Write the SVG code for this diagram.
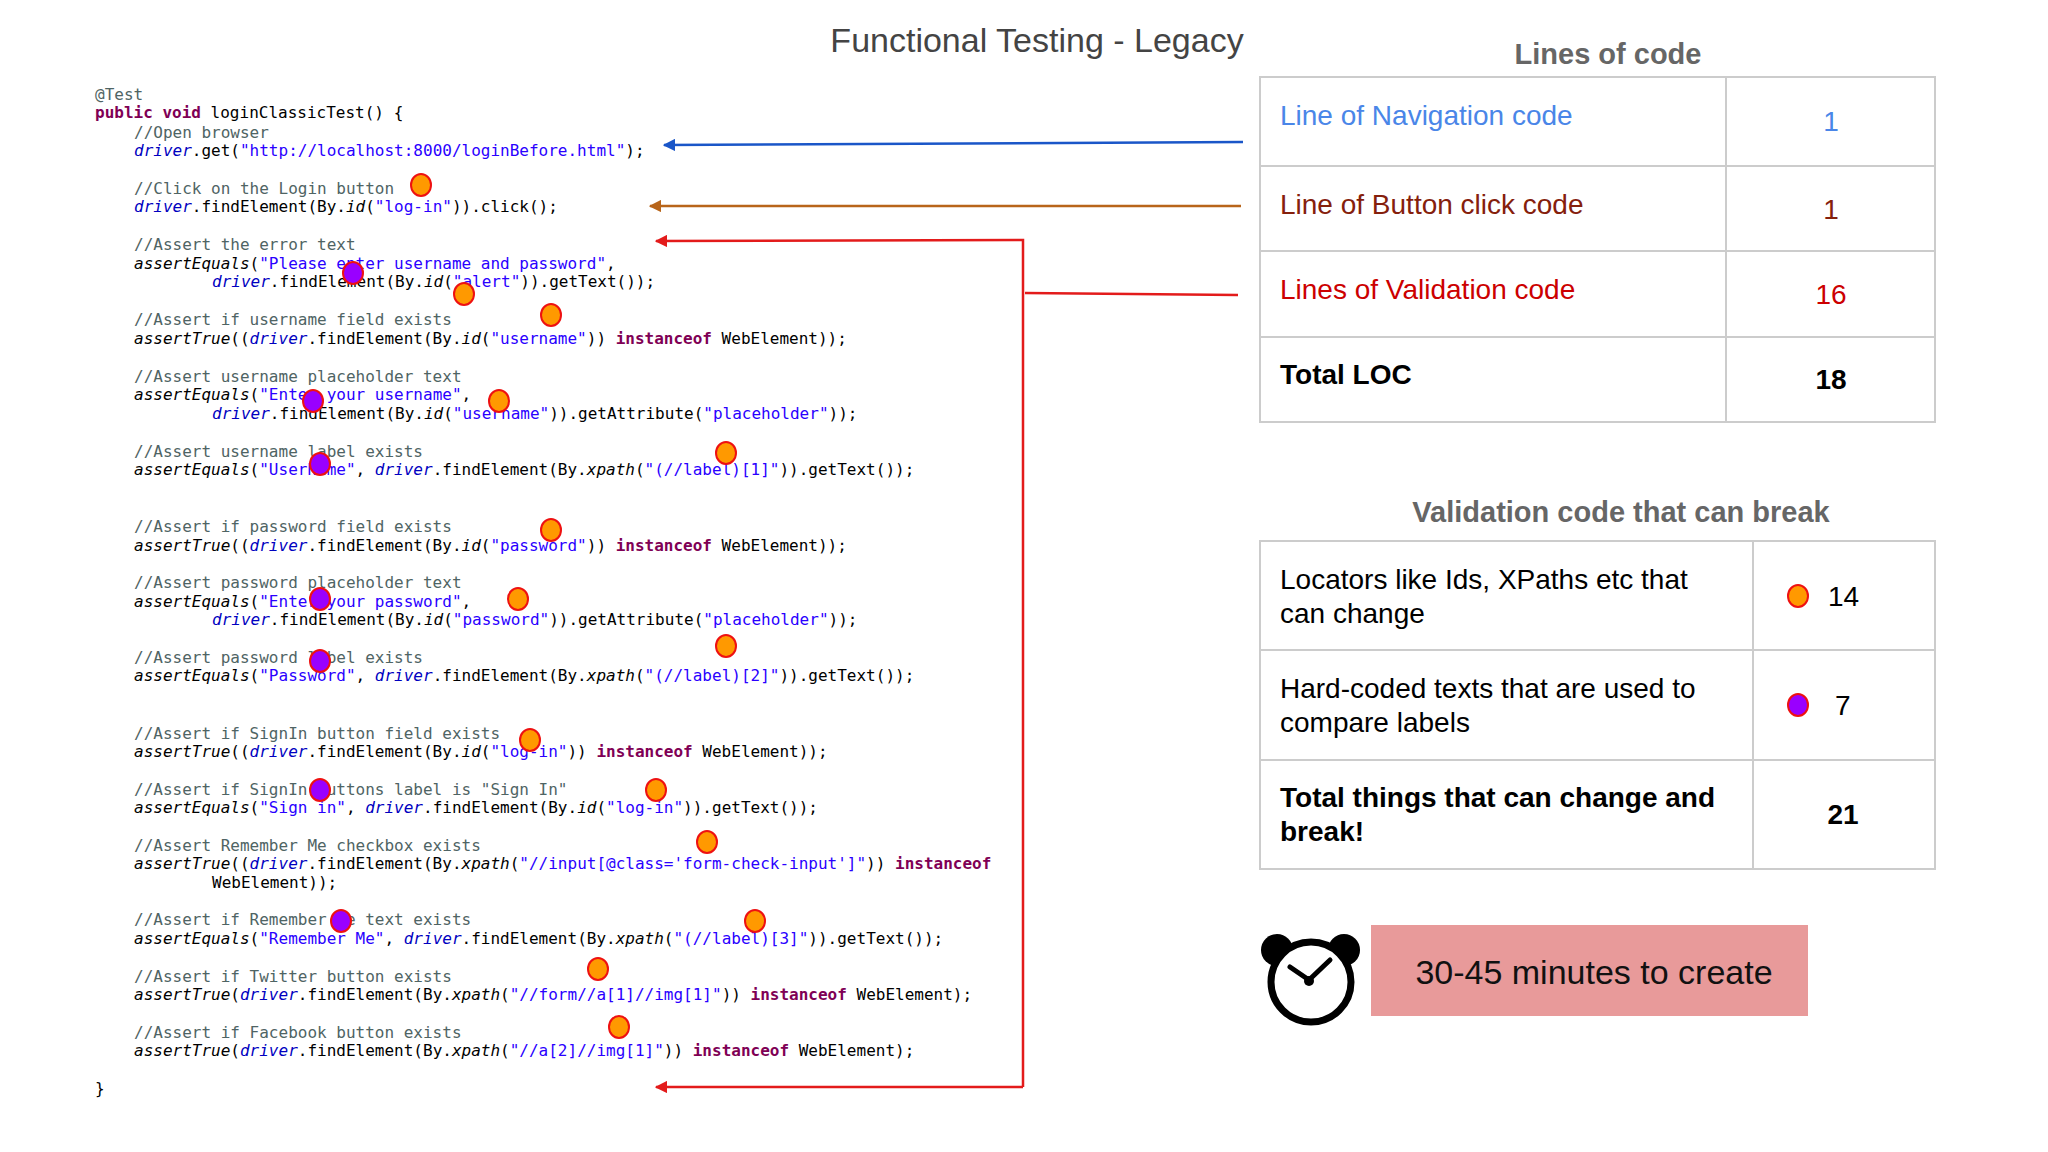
<svg xmlns="http://www.w3.org/2000/svg" width="2048" height="1152" viewBox="0 0 2048 1152">
<style>
.c{font-family:"DejaVu Sans Mono",monospace;font-size:16px;fill:#000}
.cm{fill:#4f6464}
.kw{fill:#7f0055;font-weight:bold}
.s{fill:#2a00ff}
.dv{fill:#0000c0;font-style:italic}
.it{font-style:italic}
.h{font-family:"Liberation Sans",Arial,sans-serif;font-size:29px;font-weight:bold;fill:#666;text-anchor:middle}
.t{font-family:"Liberation Sans",Arial,sans-serif;font-size:28px;fill:#000}
.n{text-anchor:middle}
.od{fill:#ff9900;stroke:#ee1111;stroke-width:2}
.pd{fill:#9900ff;stroke:#ee1111;stroke-width:2}
.cell{fill:#fff;stroke:#ccc;stroke-width:2}
</style>
<defs>
<marker id="ab" viewBox="0 0 10 10" refX="9" refY="5" markerWidth="5" markerHeight="5" orient="auto"><path d="M0,0L10,5L0,10z" fill="#1a56c8"/></marker>
<marker id="ao" viewBox="0 0 10 10" refX="9" refY="5" markerWidth="5" markerHeight="5" orient="auto"><path d="M0,0L10,5L0,10z" fill="#b8651a"/></marker>
<marker id="ar" viewBox="0 0 10 10" refX="9" refY="5" markerWidth="5" markerHeight="5" orient="auto"><path d="M0,0L10,5L0,10z" fill="#e31b1b"/></marker>
</defs>
<rect width="2048" height="1152" fill="#fff"/>
<text x="1037" y="52" font-family="Liberation Sans,Arial,sans-serif" font-size="34" fill="#444" text-anchor="middle">Functional Testing - Legacy</text>

<g id="code" class="c">
<text x="95" y="100" class="cm">@Test</text>
<text x="95" y="118"><tspan class="kw">public void</tspan> loginClassicTest() {</text>
<text x="134" y="138" class="cm">//Open browser</text>
<text x="134" y="156"><tspan class="dv">driver</tspan>.get(<tspan class="s">"http://localhost:8000/loginBefore.html"</tspan>);</text>
<text x="134" y="194" class="cm">//Click on the Login button</text>
<text x="134" y="212"><tspan class="dv">driver</tspan>.findElement(By.<tspan class="it">id</tspan>(<tspan class="s">"log-in"</tspan>)).click();</text>
<text x="134" y="250" class="cm">//Assert the error text</text>
<text x="134" y="269"><tspan class="it">assertEquals</tspan>(<tspan class="s">"Please enter username and password"</tspan>,</text>
<text x="212" y="287"><tspan class="dv">driver</tspan>.findElement(By.<tspan class="it">id</tspan>(<tspan class="s">"alert"</tspan>)).getText());</text>
<text x="134" y="325" class="cm">//Assert if username field exists</text>
<text x="134" y="344"><tspan class="it">assertTrue</tspan>((<tspan class="dv">driver</tspan>.findElement(By.<tspan class="it">id</tspan>(<tspan class="s">"username"</tspan>)) <tspan class="kw">instanceof</tspan> WebElement));</text>
<text x="134" y="382" class="cm">//Assert username placeholder text</text>
<text x="134" y="400"><tspan class="it">assertEquals</tspan>(<tspan class="s">"Enter your username"</tspan>,</text>
<text x="212" y="419"><tspan class="dv">driver</tspan>.findElement(By.<tspan class="it">id</tspan>(<tspan class="s">"username"</tspan>)).getAttribute(<tspan class="s">"placeholder"</tspan>));</text>
<text x="134" y="457" class="cm">//Assert username label exists</text>
<text x="134" y="475"><tspan class="it">assertEquals</tspan>(<tspan class="s">"UserName"</tspan>, <tspan class="dv">driver</tspan>.findElement(By.<tspan class="it">xpath</tspan>(<tspan class="s">"(//label)[1]"</tspan>)).getText());</text>
<text x="134" y="532" class="cm">//Assert if password field exists</text>
<text x="134" y="551"><tspan class="it">assertTrue</tspan>((<tspan class="dv">driver</tspan>.findElement(By.<tspan class="it">id</tspan>(<tspan class="s">"password"</tspan>)) <tspan class="kw">instanceof</tspan> WebElement));</text>
<text x="134" y="588" class="cm">//Assert password placeholder text</text>
<text x="134" y="607"><tspan class="it">assertEquals</tspan>(<tspan class="s">"Enter your password"</tspan>,</text>
<text x="212" y="625"><tspan class="dv">driver</tspan>.findElement(By.<tspan class="it">id</tspan>(<tspan class="s">"password"</tspan>)).getAttribute(<tspan class="s">"placeholder"</tspan>));</text>
<text x="134" y="663" class="cm">//Assert password label exists</text>
<text x="134" y="681"><tspan class="it">assertEquals</tspan>(<tspan class="s">"Password"</tspan>, <tspan class="dv">driver</tspan>.findElement(By.<tspan class="it">xpath</tspan>(<tspan class="s">"(//label)[2]"</tspan>)).getText());</text>
<text x="134" y="739" class="cm">//Assert if SignIn button field exists</text>
<text x="134" y="757"><tspan class="it">assertTrue</tspan>((<tspan class="dv">driver</tspan>.findElement(By.<tspan class="it">id</tspan>(<tspan class="s">"log-in"</tspan>)) <tspan class="kw">instanceof</tspan> WebElement));</text>
<text x="134" y="795" class="cm">//Assert if SignIn buttons label is "Sign In"</text>
<text x="134" y="813"><tspan class="it">assertEquals</tspan>(<tspan class="s">"Sign in"</tspan>, <tspan class="dv">driver</tspan>.findElement(By.<tspan class="it">id</tspan>(<tspan class="s">"log-in"</tspan>)).getText());</text>
<text x="134" y="851" class="cm">//Assert Remember Me checkbox exists</text>
<text x="134" y="869"><tspan class="it">assertTrue</tspan>((<tspan class="dv">driver</tspan>.findElement(By.<tspan class="it">xpath</tspan>(<tspan class="s">"//input[@class='form-check-input']"</tspan>)) <tspan class="kw">instanceof</tspan></text>
<text x="212" y="888">WebElement));</text>
<text x="134" y="925" class="cm">//Assert if Remember Me text exists</text>
<text x="134" y="944"><tspan class="it">assertEquals</tspan>(<tspan class="s">"Remember Me"</tspan>, <tspan class="dv">driver</tspan>.findElement(By.<tspan class="it">xpath</tspan>(<tspan class="s">"(//label)[3]"</tspan>)).getText());</text>
<text x="134" y="982" class="cm">//Assert if Twitter button exists</text>
<text x="134" y="1000"><tspan class="it">assertTrue</tspan>(<tspan class="dv">driver</tspan>.findElement(By.<tspan class="it">xpath</tspan>(<tspan class="s">"//form//a[1]//img[1]"</tspan>)) <tspan class="kw">instanceof</tspan> WebElement);</text>
<text x="134" y="1038" class="cm">//Assert if Facebook button exists</text>
<text x="134" y="1056"><tspan class="it">assertTrue</tspan>(<tspan class="dv">driver</tspan>.findElement(By.<tspan class="it">xpath</tspan>(<tspan class="s">"//a[2]//img[1]"</tspan>)) <tspan class="kw">instanceof</tspan> WebElement);</text>
<text x="95" y="1094">}</text>
</g>

<g id="dots">
<ellipse class="od" cx="421" cy="185" rx="10" ry="11"/>
<ellipse class="od" cx="464" cy="294" rx="10" ry="11"/>
<ellipse class="od" cx="551" cy="315" rx="10" ry="11"/>
<ellipse class="od" cx="499" cy="401" rx="10" ry="11"/>
<ellipse class="od" cx="726" cy="453" rx="10" ry="11"/>
<ellipse class="od" cx="551" cy="530" rx="10" ry="11"/>
<ellipse class="od" cx="518" cy="599" rx="10" ry="11"/>
<ellipse class="od" cx="726" cy="646" rx="10" ry="11"/>
<ellipse class="od" cx="530" cy="740" rx="10" ry="11"/>
<ellipse class="od" cx="656" cy="790" rx="10" ry="11"/>
<ellipse class="od" cx="707" cy="842" rx="10" ry="11"/>
<ellipse class="od" cx="755" cy="921" rx="10" ry="11"/>
<ellipse class="od" cx="598" cy="969" rx="10" ry="11"/>
<ellipse class="od" cx="619" cy="1027" rx="10" ry="11"/>
<ellipse class="pd" cx="353" cy="273" rx="10" ry="11"/>
<ellipse class="pd" cx="313" cy="401" rx="10" ry="11"/>
<ellipse class="pd" cx="320" cy="464" rx="10" ry="11"/>
<ellipse class="pd" cx="320" cy="599" rx="10" ry="11"/>
<ellipse class="pd" cx="320" cy="661" rx="10" ry="11"/>
<ellipse class="pd" cx="320" cy="790" rx="10" ry="11"/>
<ellipse class="pd" cx="341" cy="921" rx="10" ry="11"/>
</g>

<g id="connectors" fill="none" stroke-width="2.5">
<path d="M1243,142 L664,145" stroke="#1a56c8" marker-end="url(#ab)"/>
<path d="M1241,206 L650,206" stroke="#b8651a" marker-end="url(#ao)"/>
<path d="M1023,1087 L1023,240 L656,241" stroke="#e31b1b" marker-end="url(#ar)"/>
<path d="M1023,1087 L656,1087" stroke="#e31b1b" marker-end="url(#ar)"/>
<path d="M1025,293 L1238,295" stroke="#e31b1b"/>
</g>

<g id="loc-table">
<text class="h" x="1608" y="64">Lines of code</text>
<rect class="cell" x="1260" y="77" width="466" height="89"/><rect class="cell" x="1726" y="77" width="209" height="89"/>
<rect class="cell" x="1260" y="166" width="466" height="85"/><rect class="cell" x="1726" y="166" width="209" height="85"/>
<rect class="cell" x="1260" y="251" width="466" height="86"/><rect class="cell" x="1726" y="251" width="209" height="86"/>
<rect class="cell" x="1260" y="337" width="466" height="85"/><rect class="cell" x="1726" y="337" width="209" height="85"/>
<text class="t" x="1280" y="125" fill="#4a86e8" style="fill:#4a86e8">Line of Navigation code</text>
<text class="t n" x="1831" y="131" style="fill:#4a86e8">1</text>
<text class="t" x="1280" y="214" style="fill:#85200c">Line of Button click code</text>
<text class="t n" x="1831" y="219" style="fill:#85200c">1</text>
<text class="t" x="1280" y="299" style="fill:#cc0000">Lines of Validation code</text>
<text class="t n" x="1831" y="304" style="fill:#cc0000">16</text>
<text class="t" x="1280" y="384" font-weight="bold">Total LOC</text>
<text class="t n" x="1831" y="389" font-weight="bold">18</text>
</g>

<g id="break-table">
<text class="h" x="1621" y="522">Validation code that can break</text>
<rect class="cell" x="1260" y="541" width="493" height="109"/><rect class="cell" x="1753" y="541" width="182" height="109"/>
<rect class="cell" x="1260" y="650" width="493" height="110"/><rect class="cell" x="1753" y="650" width="182" height="110"/>
<rect class="cell" x="1260" y="760" width="493" height="109"/><rect class="cell" x="1753" y="760" width="182" height="109"/>
<text class="t" x="1280" y="589">Locators like Ids, XPaths etc that</text>
<text class="t" x="1280" y="623">can change</text>
<ellipse class="od" cx="1798" cy="596" rx="10" ry="11"/>
<text class="t" x="1828" y="606">14</text>
<text class="t" x="1280" y="698">Hard-coded texts that are used to</text>
<text class="t" x="1280" y="732">compare labels</text>
<ellipse class="pd" cx="1798" cy="705" rx="10" ry="11"/>
<text class="t" x="1835" y="715">7</text>
<text class="t" x="1280" y="807" font-weight="bold">Total things that can change and</text>
<text class="t" x="1280" y="841" font-weight="bold">break!</text>
<text class="t n" x="1843" y="824" font-weight="bold">21</text>
</g>

<g id="clock">
<circle cx="1277" cy="950" r="16" fill="#000"/>
<circle cx="1344" cy="950" r="16" fill="#000"/>
<circle cx="1311" cy="982" r="40" fill="#fff" stroke="#000" stroke-width="7"/>
<path d="M1290,967 L1309,980 M1309,980 L1330,960" stroke="#000" stroke-width="5" stroke-linecap="round" fill="none"/>
<circle cx="1309" cy="981" r="5" fill="#000"/>
</g>
<g id="time">
<rect x="1371" y="925" width="437" height="91" fill="#e89a9a"/>
<text x="1594" y="984" font-family="Liberation Sans,Arial,sans-serif" font-size="34" fill="#111" text-anchor="middle">30-45 minutes to create</text>
</g>
</svg>
